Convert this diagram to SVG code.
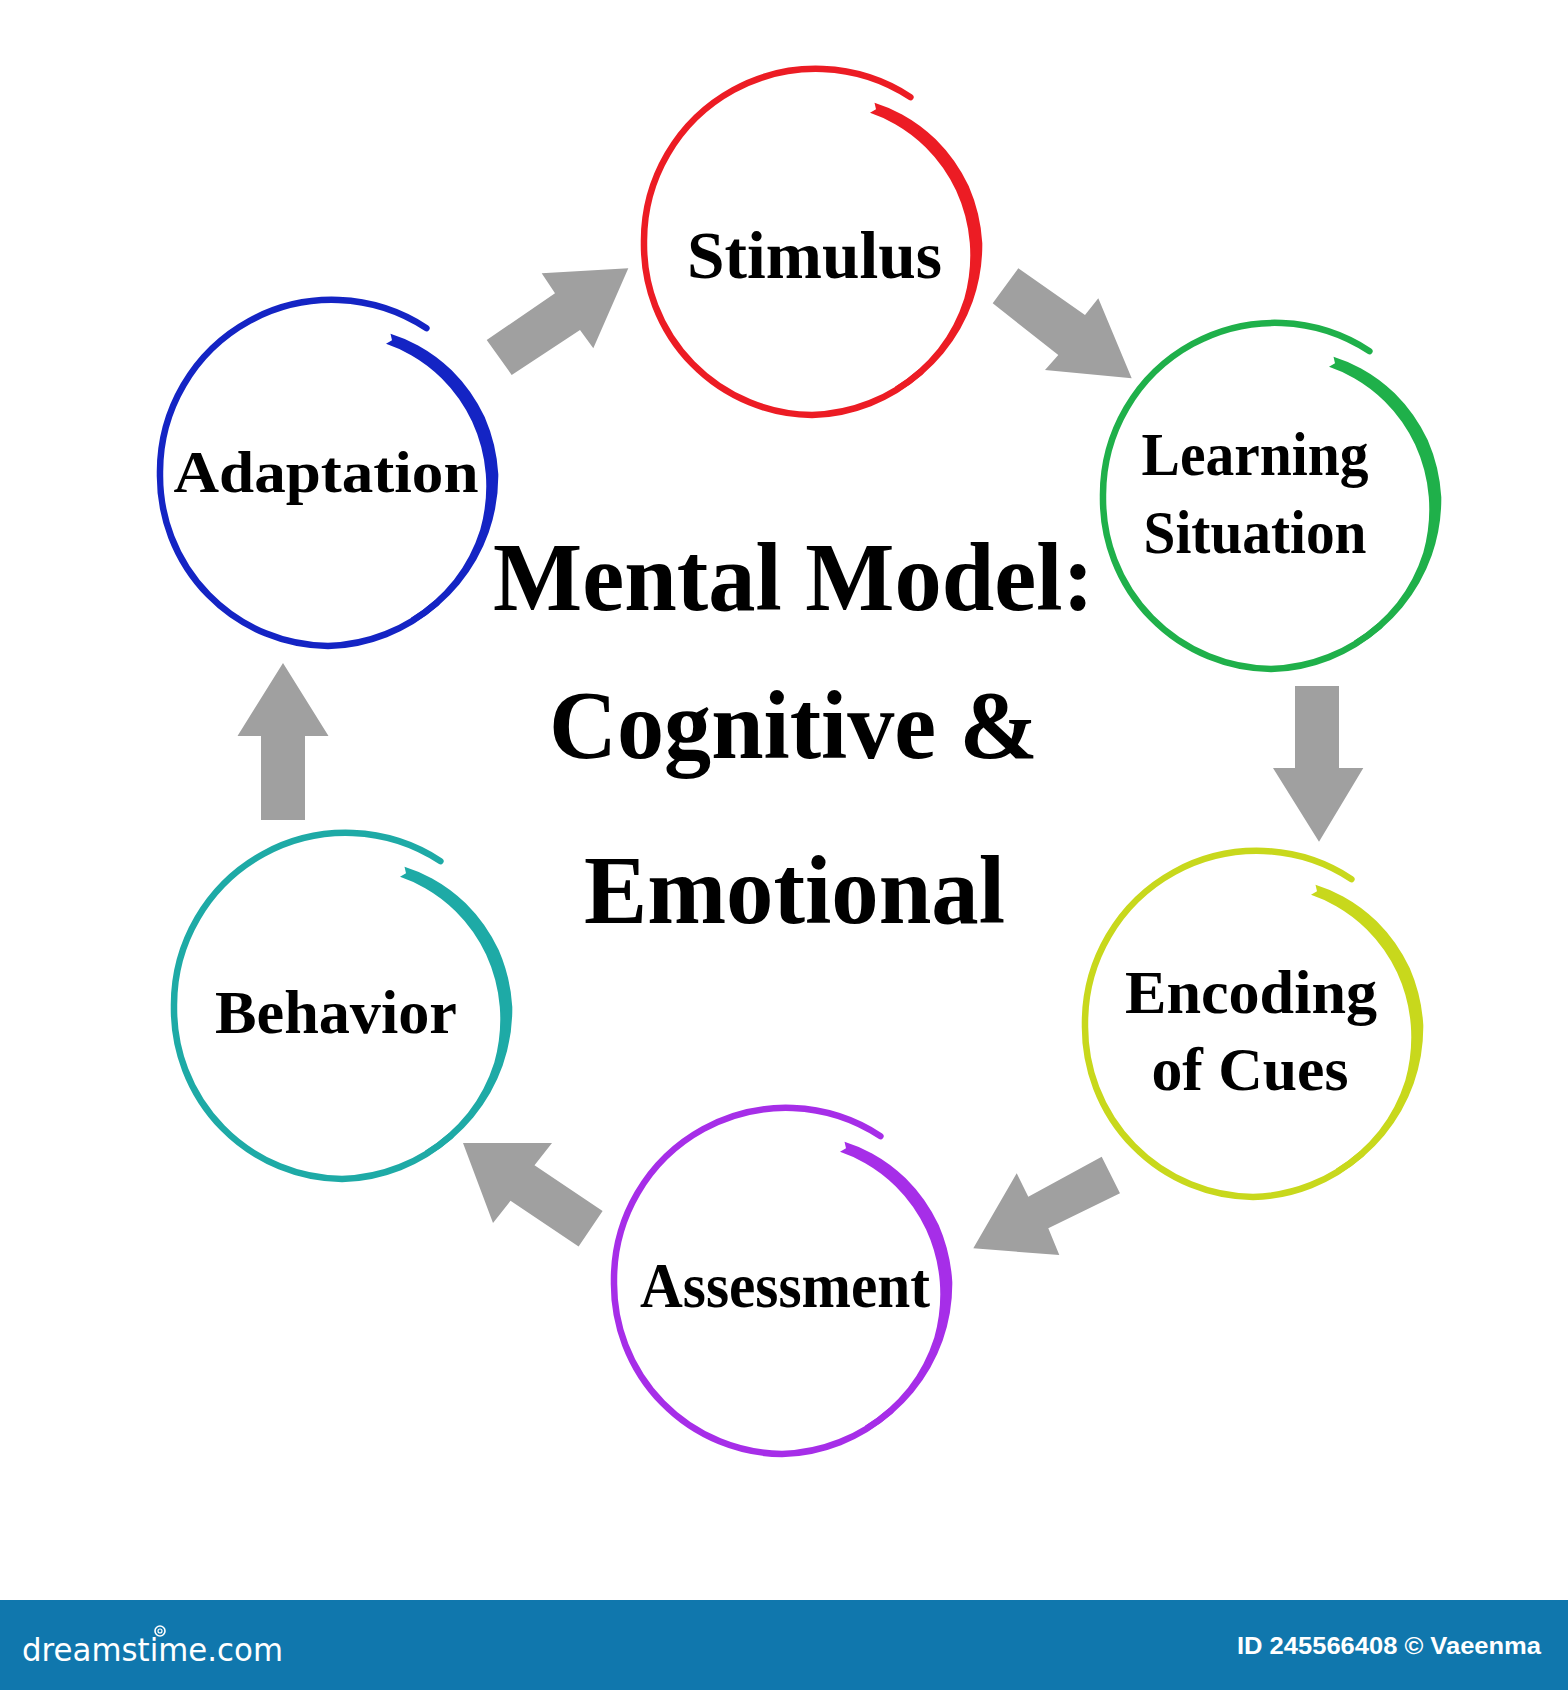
<svg xmlns="http://www.w3.org/2000/svg" width="1568" height="1690" viewBox="0 0 1568 1690">
<style>
.lbl{font-family:"Liberation Serif","Times New Roman",serif;font-weight:bold;fill:#000;text-anchor:middle}
.title{font-family:"Liberation Serif","Times New Roman",serif;font-weight:bold;fill:#000;text-anchor:middle}
.arrow{fill:#a0a0a0}
</style>
<defs>
<g id="ring">
<path d="M 98.4 -145.9 A 172 172 0 0 0 -168 0 A 170 170 0 0 0 0 172 A 170 170 0 0 0 108.3 129.1" fill="none" stroke="currentColor" stroke-width="6.5" stroke-linecap="round"/>
<path d="M 86 149 A 172 172 0 0 0 131.4 110.2 A 171.5 171.5 0 0 0 160.7 58.5 A 171 171 0 0 0 170.3 0 A 168.5 168.5 0 0 0 156.7 -57 A 164 164 0 0 0 123.7 -103.8 A 159 159 0 0 0 90.1 -128.6 A 155 155 0 0 0 62.5 -140.3 L 64 -133.8 L 58 -130.2 A 144 144 0 0 1 83.2 -118.8 A 147 147 0 0 1 113.8 -95.5 A 151 151 0 0 1 144.1 -52.4 A 155.5 155.5 0 0 1 157.8 0 A 160 160 0 0 1 152.3 55.4 A 163 163 0 0 1 126 105.8 A 165.5 165.5 0 0 1 83 143.8 Z" fill="currentColor"/>
</g>
</defs>
<rect x="0" y="0" width="1568" height="1690" fill="#ffffff"/>

<g id="connectors">
<polygon class="arrow" points="486.7,340 555,293.3 541.7,273.3 628.3,268.3 593.3,348.3 580,330 511.7,375"/>
<polygon class="arrow" points="1018.3,268.3 1085,315 1098.3,298.3 1131.7,378.3 1045,370 1058.3,355 992.7,303.3"/>
<polygon class="arrow" points="1295,686 1339,686 1339,768 1363.3,768 1319,841.7 1273,768 1295,768"/>
<polygon class="arrow" points="1101.7,1156.7 1028.3,1196.7 1016.7,1173.3 973.3,1248.3 1059.3,1255 1048.3,1228.3 1120,1193.3"/>
<polygon class="arrow" points="602.6,1211 534.5,1165.2 552,1143 463,1143 493,1223 510.5,1200.8 578.6,1246.6"/>
<polygon class="arrow" points="261,820 305,820 305,736 328.5,736 283,663 237.5,736 261,736"/>
</g>

<g id="node-stimulus">
<use href="#ring" transform="translate(812,243)" color="#ec1c24"/>
<text class="lbl" x="814.5" y="278" font-size="68" textLength="255" lengthAdjust="spacingAndGlyphs">Stimulus</text>
</g>
<g id="node-learning-situation">
<use href="#ring" transform="translate(1271,497)" color="#1fb04a"/>
<text class="lbl" x="1255" y="475" font-size="62" textLength="227" lengthAdjust="spacingAndGlyphs">Learning</text>
<text class="lbl" x="1255" y="553" font-size="62" textLength="223" lengthAdjust="spacingAndGlyphs">Situation</text>
</g>
<g id="node-encoding">
<use href="#ring" transform="translate(1253,1025)" color="#c8d81c"/>
<text class="lbl" x="1251" y="1013" font-size="62" textLength="252" lengthAdjust="spacingAndGlyphs">Encoding</text>
<text class="lbl" x="1250" y="1090" font-size="62" textLength="197" lengthAdjust="spacingAndGlyphs">of Cues</text>
</g>
<g id="node-assessment">
<use href="#ring" transform="translate(782,1282)" color="#a62ee8"/>
<text class="lbl" x="785" y="1307" font-size="64" textLength="290" lengthAdjust="spacingAndGlyphs">Assessment</text>
</g>
<g id="node-behavior">
<use href="#ring" transform="translate(342,1007)" color="#1eaaa6"/>
<text class="lbl" x="336" y="1033" font-size="62" textLength="242" lengthAdjust="spacingAndGlyphs">Behavior</text>
</g>
<g id="node-adaptation">
<use href="#ring" transform="translate(328,474)" color="#1424c4"/>
<text class="lbl" x="326" y="492" font-size="60" textLength="305" lengthAdjust="spacingAndGlyphs">Adaptation</text>
</g>

<g id="title">
<text class="title" x="793.5" y="610" font-size="98" textLength="601" lengthAdjust="spacingAndGlyphs">Mental Model:</text>
<text class="title" x="793.5" y="758" font-size="98" textLength="489" lengthAdjust="spacingAndGlyphs">Cognitive &amp;</text>
<text class="title" x="794.5" y="923" font-size="98" textLength="421" lengthAdjust="spacingAndGlyphs">Emotional</text>
</g>

<g id="footer">
<rect x="0" y="1600" width="1568" height="90" fill="#1077ad"/>
<text x="22" y="1661" font-family="'DejaVu Sans','Liberation Sans',sans-serif" font-size="32" fill="#ffffff" textLength="261" lengthAdjust="spacingAndGlyphs">dreamstime.com</text>
<circle cx="160" cy="1631" r="5" fill="none" stroke="#ffffff" stroke-width="1.6"/>
<circle cx="160" cy="1631" r="2" fill="none" stroke="#ffffff" stroke-width="1.2"/>
<text x="1541" y="1654" font-family="'Liberation Sans Narrow','Liberation Sans',sans-serif" font-weight="bold" font-size="24" fill="#ffffff" text-anchor="end" textLength="304" lengthAdjust="spacingAndGlyphs">ID 245566408 © Vaeenma</text>
</g>
</svg>
